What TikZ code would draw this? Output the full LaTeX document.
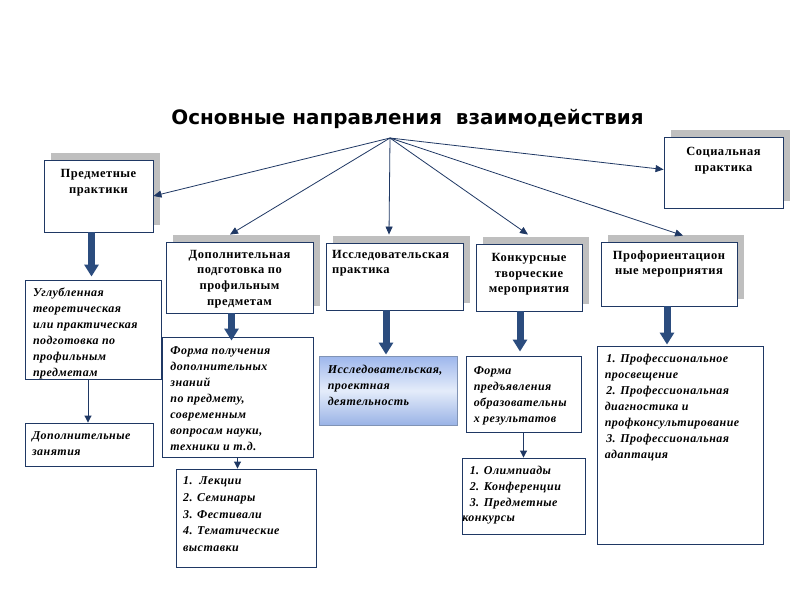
\documentclass[tikz,border=0pt]{standalone}
\usepackage{fontspec}
\setmainfont{Liberation Serif}[LetterSpace=4]
\newfontfamily\titlefont{DejaVu Sans}
\usetikzlibrary{calc,shadows,arrows.meta}
\definecolor{navy}{HTML}{1F3864}
\definecolor{shgray}{HTML}{BFBFBF}
\definecolor{thickblue}{HTML}{2B4C7E}
\definecolor{gradtop}{HTML}{9DB6EC}
\definecolor{gradmid}{HTML}{E4ECFA}
\definecolor{gradbot}{HTML}{9AB3E6}
\definecolor{gradline}{HTML}{8093B5}
\tikzset{
  box/.style={draw=navy, line width=0.9pt, fill=white, inner sep=0pt, anchor=center},
  shbox/.style={box, general shadow={fill=shgray, draw=none, shadow xshift=6.5pt, shadow yshift=7pt}},
  gradbox/.style={draw=gradline, line width=0.9pt, inner sep=0pt, anchor=center,
     top color=gradtop, bottom color=gradbot, middle color=gradmid},
  hd/.style={anchor=north, align=center, inner sep=0pt, font=\bfseries\fontsize{12.5}{15.7}\selectfont},
  hdl/.style={anchor=north west, align=left, inner sep=0pt, font=\bfseries\fontsize{12.5}{15.7}\selectfont},
  it/.style={anchor=north west, align=left, inner sep=0pt, font=\bfseries\itshape\fontsize{12}{16}\selectfont},
  hubarrow/.style={draw=navy, line width=0.8pt, -{Triangle[width=7pt,length=8pt]}},
  thinarrow/.style={draw=navy, line width=0.9pt, -{Triangle[width=7pt,length=7pt]}},
  thickarrow/.style={draw=thickblue, line width=7pt, -{Triangle[width=14pt,length=12pt]}},
}
\begin{document}
\begin{tikzpicture}[x=1pt,y=-1pt]
\useasboundingbox (0,0) rectangle (800,600);
\fill[white] (0,0) rectangle (800,600);

% title
\node[anchor=base, inner sep=0pt, font=\titlefont\bfseries\fontsize{19.9}{22}\selectfont] (title) at (407.5,124.3) {Основные направления\ \ взаимодействия};
\coordinate (hub) at (390,138);

% header boxes
\node[shbox, minimum width=109pt, minimum height=72pt] (pred) at (98.5,196) {};
\node[shbox, minimum width=119pt, minimum height=71pt] (soc) at (723.5,172.5) {};
\node[shbox, minimum width=147pt, minimum height=71pt] (dop) at (239.5,277.5) {};
\node[shbox, minimum width=137pt, minimum height=67pt] (issl) at (394.5,276.5) {};
\node[shbox, minimum width=106pt, minimum height=67pt] (konk) at (529,277.5) {};
\node[shbox, minimum width=136pt, minimum height=64pt] (prof) at (669,274) {};

\node[hd] (predt) at ($(pred.north)+(0,6.8)$) {\strut Предметные\\практики};
\node[hd] (soct) at ($(soc.north)+(0,8.1)$) {\strut Социальная\\практика};
\node[hd] (dopt) at ($(dop.north)+(0,5.3)$) {\strut Дополнительная\\подготовка по\\профильным\\предметам};
\node[hdl] (isslt) at ($(issl.north west)+(6.3,4.3)$) {\strut Исследовательская\\практика};
\node[hd] (konkt) at ($(konk.north)+(0,6.7)$) {\strut Конкурсные\\творческие\\мероприятия};
\node[hd] (proft) at ($(prof.north)+(0,6.3)$) {\strut Профориентацион\\ные мероприятия};

% lower boxes
\node[box, minimum width=136pt, minimum height=99pt] (ugl) at (93,329.5) {};
\node[box, minimum width=128pt, minimum height=43pt] (dopz) at (89,444.5) {};
\node[box, minimum width=151pt, minimum height=120pt] (forma) at (237.5,397) {};
\node[box, minimum width=140pt, minimum height=98pt] (lek) at (246,518) {};
\node[gradbox, minimum width=138pt, minimum height=69pt] (isd) at (388,390.5) {};
\node[box, minimum width=115pt, minimum height=76pt] (fpred) at (523.5,394) {};
\node[box, minimum width=123pt, minimum height=76pt] (olim) at (523.5,496) {};
\node[box, minimum width=166pt, minimum height=198pt] (profl) at (680,445) {};

\node[it] (uglt) at ($(ugl.north west)+(8.3,5.1)$) {\strut Углубленная\\теоретическая\\или практическая\\подготовка по\\профильным\\предметам};
\node[it] (dopzt) at ($(dopz.north west)+(7.3,5.4)$) {\strut Дополнительные\\занятия};
\node[it] (format) at ($(forma.north west)+(8.7,6.1)$) {\strut Форма получения\\дополнительных\\знаний\\по предмету,\\современным\\вопросам науки,\\техники и т.д.};
\node[it, font=\bfseries\itshape\fontsize{12}{16.7}\selectfont] (lekt) at ($(lek.north west)+(7.3,4.3)$) {\strut 1.\ \ Лекции\\2. Семинары\\3. Фестивали\\4. Тематические\\выставки};
\node[it] (isdt) at ($(isd.north west)+(9,7)$) {\strut Исследовательская,\\проектная\\деятельность};
\node[it] (fpredt) at ($(fpred.north west)+(8,7.1)$) {\strut Форма\\предъявления\\образовательны\\х результатов};
\node[it, font=\bfseries\itshape\fontsize{12}{15.6}\selectfont] (olimt) at ($(olim.north west)+(0.6,6.2)$) {\strut\hspace*{7.4pt}1. Олимпиады\\\hspace*{7.4pt}2. Конференции\\\hspace*{7.4pt}3. Предметные\\конкурсы};
\node[it] (proflt) at ($(profl.north west)+(8,5.7)$) {\strut\hspace*{1.5pt}1. Профессиональное\\просвещение\\\hspace*{1.5pt}2. Профессиональная\\диагностика и\\профконсультирование\\\hspace*{1.5pt}3. Профессиональная\\адаптация};

% hub arrows
\draw[hubarrow] (hub) -- (pred.east);
\draw[hubarrow] (hub) -- ($(soc.west)+(0,-3)$);
\draw[hubarrow] (hub) -- ($(dop.north)+(-9.5,-7)$);
\draw[hubarrow] (hub) -- ($(issl.north)+(-5.5,-8)$);
\draw[hubarrow] (hub) -- ($(konk.north)+(-1,-9)$);
\draw[hubarrow] (hub) -- ($(prof.north)+(14,-6)$);

% thick arrows
\draw[thickarrow] ($(pred.south)+(-7,0)$) -- ($(ugl.north)+(-1.5,-3)$);
\draw[thickarrow] ($(dop.south)+(-8,0)$) -- ($(forma.north)+(-6,4)$);
\draw[thickarrow] ($(issl.south)+(-8.5,0)$) -- ($(isd.north)+(-2,-1)$);
\draw[thickarrow] ($(konk.south)+(-9,0)$) -- ($(fpred.north)+(-3.5,-4)$);
\draw[thickarrow] ($(prof.south)+(-2,0)$) -- ($(profl.north)+(-13,-1)$);

% thin arrows
\draw[thinarrow] ($(ugl.south)+(-5,0)$) -- ($(dopz.north)+(-1,0)$);
\draw[thinarrow] (forma.south) -- (forma.south |- lek.north);
\draw[thinarrow] (fpred.south) -- (olim.north);
\end{tikzpicture}
\end{document}
